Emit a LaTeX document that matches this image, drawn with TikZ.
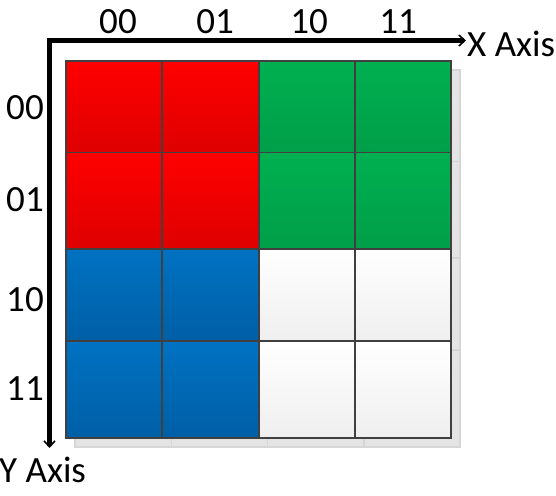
\documentclass[tikz,border=0pt]{standalone}
\usepackage{fontspec}
\setmainfont{Carlito}
\usetikzlibrary{arrows.meta}
\definecolor{redT}{HTML}{FF0000}
\definecolor{redB}{HTML}{DE0000}
\definecolor{grnT}{HTML}{00B050}
\definecolor{grnB}{HTML}{009E48}
\definecolor{bluT}{HTML}{0072C2}
\definecolor{bluB}{HTML}{005FA6}
\definecolor{whtT}{HTML}{FFFFFF}
\definecolor{whtB}{HTML}{EFEFEF}
\definecolor{gridline}{HTML}{404040}
\definecolor{shadowfill}{HTML}{E4E4E4}
\definecolor{shadowline}{HTML}{D6D6D6}
\tikzset{
  cellred/.style={shade, top color=redT, bottom color=redB},
  cellgreen/.style={shade, top color=grnT, bottom color=grnB},
  cellblue/.style={shade, top color=bluT, bottom color=bluB},
  cellwhite/.style={shade, top color=whtT, bottom color=whtB},
  gridedge/.style={draw=gridline, line width=1.8pt},
  shadowcell/.style={fill=shadowfill, draw=shadowline, line width=1.5pt},
  axis/.style={line width=4.5pt, black, -{Straight Barb[length=6pt,width=11pt,line width=1.6pt]}},
  lbl/.style={font=\fontsize{37}{40}\selectfont, inner sep=0pt},
}
\begin{document}
\begin{tikzpicture}[x=1pt,y=-1pt]
\useasboundingbox (0,0) rectangle (556,495);
% x and y edges
\def\xa{66}\def\xb{162.3}\def\xc{258.6}\def\xd{354.8}\def\xe{451}
\def\ya{61}\def\yb{152.5}\def\yc{249}\def\yd{341}\def\ye{438}
% shadow grid
\foreach \i/\j in {\xa/\xb,\xb/\xc,\xc/\xd,\xd/\xe}{
  \foreach \k/\l in {\ya/\yb,\yb/\yc,\yc/\yd,\yd/\ye}{
    \path[shadowcell] (\i+9,\k+9) rectangle (\j+9,\l+9);
  }
}
% cells
\path[cellred]   (\xa,\ya) rectangle (\xb,\yb);
\path[cellred]   (\xb,\ya) rectangle (\xc,\yb);
\path[cellgreen] (\xc,\ya) rectangle (\xd,\yb);
\path[cellgreen] (\xd,\ya) rectangle (\xe,\yb);
\path[cellred]   (\xa,\yb) rectangle (\xb,\yc);
\path[cellred]   (\xb,\yb) rectangle (\xc,\yc);
\path[cellgreen] (\xc,\yb) rectangle (\xd,\yc);
\path[cellgreen] (\xd,\yb) rectangle (\xe,\yc);
\path[cellblue]  (\xa,\yc) rectangle (\xb,\yd);
\path[cellblue]  (\xb,\yc) rectangle (\xc,\yd);
\path[cellwhite] (\xc,\yc) rectangle (\xd,\yd);
\path[cellwhite] (\xd,\yc) rectangle (\xe,\yd);
\path[cellblue]  (\xa,\yd) rectangle (\xb,\ye);
\path[cellblue]  (\xb,\yd) rectangle (\xc,\ye);
\path[cellwhite] (\xc,\yd) rectangle (\xd,\ye);
\path[cellwhite] (\xd,\yd) rectangle (\xe,\ye);
% grid lines
\foreach \x in {\xb,\xc,\xd}{\draw[gridedge] (\x,\ya) -- (\x,\ye);}
\foreach \y in {\yb,\yc,\yd}{\draw[gridedge] (\xa,\y) -- (\xe,\y);}
\draw[gridedge] (\xa,\ya) rectangle (\xe,\ye);
% axes
\coordinate (origin) at (49.5,40.5);
\coordinate (xstart) at (47.25,40.5);
\coordinate (xend) at (466,40.5);
\coordinate (yend) at (49.5,448);
\draw[axis] (xstart) -- (xend);
\draw[axis] (origin) -- (yend);
% axis titles
\node[lbl, anchor=west] (xaxis) at (467,44) {X Axis};
\node[lbl, anchor=west] (yaxis) at (-1,470) {Y Axis};
% column labels
\node[lbl] (c00) at (118,22) {00};
\node[lbl] (c01) at (215,22) {01};
\node[lbl] (c10) at (309,22) {10};
\node[lbl] (c11) at (398,22) {11};
% row labels
\node[lbl] (r00) at (25,108) {00};
\node[lbl] (r01) at (25,200) {01};
\node[lbl] (r10) at (25,300) {10};
\node[lbl] (r11) at (25,389) {11};
\end{tikzpicture}
\end{document}
